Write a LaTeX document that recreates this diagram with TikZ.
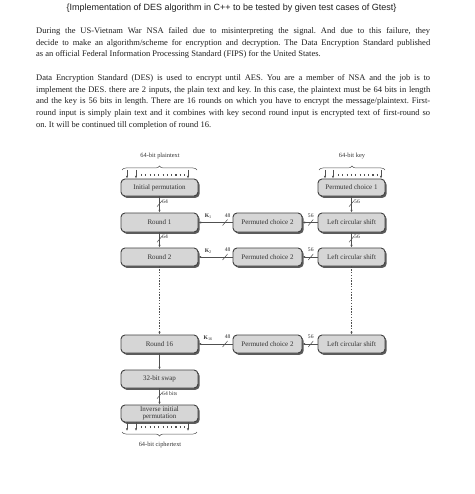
\documentclass[tikz,border=0pt]{standalone}
\usepackage{fontspec}
\setmainfont{Liberation Serif}
\newfontfamily\titlefont{Liberation Sans}
\usetikzlibrary{shadows,decorations.pathreplacing,arrows.meta,calc}
\definecolor{boxfill}{HTML}{D6D6D6}
\definecolor{boxline}{HTML}{404040}
\definecolor{shadowc}{HTML}{5C5C5C}
\definecolor{dtext}{HTML}{333333}
\definecolor{conn}{HTML}{505050}
\definecolor{ptext}{HTML}{1E1E1E}
\begin{document}
\frenchspacing
\begin{tikzpicture}[x=1pt,y=-1pt,
  box/.style={draw=boxline, line width=0.9pt, fill=boxfill, rounded corners=4pt,
    minimum width=77pt, minimum height=18pt, inner sep=0pt, text=dtext, align=center,
    font=\fontsize{7}{6.8}\selectfont,
    drop shadow={shadow xshift=1.6pt, shadow yshift=-1.8pt, fill=shadowc, opacity=1}},
  midbox/.style={box, minimum width=69pt},
  rbox/.style={box, minimum width=67pt},
  conn/.style={draw=conn, line width=0.6pt, -{Latex[length=2.6pt,width=2.2pt]}},
  dashconn/.style={conn, dash pattern=on 1.4pt off 1.4pt},
  dotrow/.style={draw=conn, line width=1.1pt, dash pattern=on 1.1pt off 3.2pt},
  slashmark/.style={draw=conn, line width=0.5pt},
  small/.style={text=dtext, font=\fontsize{5.6}{6}\selectfont, inner sep=0pt},
  lab/.style={text=dtext, font=\fontsize{6.4}{7}\selectfont, inner sep=0pt},
  bracestyle/.style={draw=conn, line width=0.5pt, decorate, decoration={brace, amplitude=4pt}},
  para/.style={text=ptext, font=\fontsize{8.5}{11.6}\selectfont, text width=394pt, align=justify, inner sep=0pt, anchor=north west}
]
\useasboundingbox (0,0) rectangle (474,494);
\fill[white] (0,0) rectangle (474,494);

% title and paragraphs
\node[anchor=base, inner sep=0pt, text=ptext, font=\titlefont\fontsize{9}{10}\selectfont] (title) at (231.5,10.5)
  {\{Implementation of DES algorithm in C++ to be tested by given test cases of Gtest\}};
\node[para] (p1) at (36,27.5) {During the US-Vietnam War NSA failed due to misinterpreting the signal. And due to this failure, they\linebreak
decide to make an algorithm/scheme for encryption and decryption. The Data Encryption Standard published\linebreak
as an official Federal Information Processing Standard (FIPS) for the United States.};
\node[para] (p2) at (36,74.5) {Data Encryption Standard (DES) is used to encrypt until AES. You are a member of NSA and the job is to\linebreak
implement the DES. there are 2 inputs, the plain text and key. In this case, the plaintext must be 64 bits in length\linebreak
and the key is 56 bits in length. There are 16 rounds on which you have to encrypt the message/plaintext. First-\linebreak
round input is simply plain text and it combines with key second round input is encrypted text of first-round so\linebreak
on. It will be continued till completion of round 16.};

% boxes
\node[box, minimum height=17pt] (ip) at (159.5,187.5) {Initial permutation};
\node[box, minimum height=19pt] (r1) at (159.5,222.5) {Round 1};
\node[box] (r2) at (159.5,257) {Round 2};
\node[box] (r16) at (159.5,344) {Round 16};
\node[box] (swap) at (159.5,379) {32-bit swap};
\node[box, minimum height=17pt] (iip) at (159.5,413.5) {Inverse initial\\permutation};

\node[midbox, minimum height=19pt] (pa) at (267.5,222.5) {Permuted choice 2};
\node[midbox] (pb) at (267.5,257) {Permuted choice 2};
\node[midbox] (pc) at (267.5,344) {Permuted choice 2};

\node[rbox, minimum height=17pt] (pc1) at (351.5,187.5) {Permuted choice 1};
\node[rbox, minimum height=19pt] (l1) at (351.5,222.5) {Left circular shift};
\node[rbox] (l2) at (351.5,257) {Left circular shift};
\node[rbox] (l16) at (351.5,344) {Left circular shift};

% top inputs: plaintext
\node[lab] (ptl) at (160,156) {64-bit plaintext};
\coordinate (pbl) at (122,170);
\coordinate (pbr) at (197,170);
\draw[bracestyle] (pbl) -- (pbr);
\coordinate (pa1) at (127,170); \coordinate (pa2) at (136,170); \coordinate (pa3) at (188,170);
\draw[conn] (pa1) -- (pa1 |- ip.north);
\draw[conn] (pa2) -- (pa2 |- ip.north);
\draw[conn] (pa3) -- (pa3 |- ip.north);
\coordinate (pd1) at (141,175); \coordinate (pd2) at (185,175);
\draw[dotrow] (pd1) -- (pd2);

% top inputs: key
\node[lab] (kl) at (352,156) {64-bit key};
\coordinate (kbl) at (319,170);
\coordinate (kbr) at (385,170);
\draw[bracestyle] (kbl) -- (kbr);
\coordinate (ka1) at (325,170); \coordinate (ka2) at (333,170); \coordinate (ka3) at (381,170);
\draw[conn] (ka1) -- (ka1 |- pc1.north);
\draw[conn] (ka2) -- (ka2 |- pc1.north);
\draw[conn] (ka3) -- (ka3 |- pc1.north);
\coordinate (kd1) at (338,175); \coordinate (kd2) at (378,175);
\draw[dotrow] (kd1) -- (kd2);

% left column connectors
\draw[conn] (ip) -- coordinate[pos=0.45] (s1) (r1);
\draw[slashmark] ($(s1)+(-2.5,3)$) -- ($(s1)+(2.5,-3)$);
\node[small, anchor=west] at ($(s1)+(2.5,-2.5)$) {64};
\draw[conn] (r1) -- coordinate[pos=0.45] (s2) (r2);
\draw[slashmark] ($(s2)+(-2.5,3)$) -- ($(s2)+(2.5,-3)$);
\node[small, anchor=west] at ($(s2)+(2.5,-2.5)$) {64};
\draw[dashconn] (r2) -- (r16);
\draw[conn] (r16) -- (swap);
\draw[conn] (swap) -- coordinate[pos=0.45] (s3) (iip);
\draw[slashmark] ($(s3)+(-2.5,3)$) -- ($(s3)+(2.5,-3)$);
\node[small, anchor=west] at ($(s3)+(2.5,-2.5)$) {64 bits};

% right column connectors
\draw[conn] (pc1) -- coordinate[pos=0.45] (t1) (l1);
\draw[slashmark] ($(t1)+(-2.5,3)$) -- ($(t1)+(2.5,-3)$);
\node[small, anchor=west] at ($(t1)+(2.5,-2.5)$) {56};
\draw[conn] (l1) -- coordinate[pos=0.45] (t2) (l2);
\draw[slashmark] ($(t2)+(-2.5,3)$) -- ($(t2)+(2.5,-3)$);
\node[small, anchor=west] at ($(t2)+(2.5,-2.5)$) {56};
\draw[dashconn] (l2) -- (l16);

% horizontal connectors
\foreach \l/\p/\r/\k in {l1/pa/r1/1, l2/pb/r2/2, l16/pc/r16/16} {
  \draw[conn] (\l) -- coordinate[pos=0.45] (h\k) (\p);
  \draw[slashmark] ($(h\k)+(-2.5,3)$) -- ($(h\k)+(2.5,-3)$);
  \node[small] at ($(h\k)+(0,-7)$) {56};
  \draw[conn] (\p) -- coordinate[pos=0.22] (g\k) coordinate[pos=0.72] (kk\k) (\r);
  \draw[slashmark] ($(g\k)+(-2.5,3)$) -- ($(g\k)+(2.5,-3)$);
  \node[small] at ($(g\k)+(2.5,-7)$) {48};
  \node[small] at ($(kk\k)+(0,-6)$) {\textbf{K}\raisebox{-1pt}{\fontsize{4.2}{4.5}\selectfont\k}};
}

% bottom outputs
\coordinate (ob1) at (127,431); \coordinate (ob2) at (136,431); \coordinate (ob3) at (188,431);
\draw[conn] (ob1 |- iip.south) -- (ob1);
\draw[conn] (ob2 |- iip.south) -- (ob2);
\draw[conn] (ob3 |- iip.south) -- (ob3);
\coordinate (od1) at (141,427); \coordinate (od2) at (185,427);
\draw[dotrow] (od1) -- (od2);
\coordinate (obl) at (122,432);
\coordinate (obr) at (197,432);
\draw[bracestyle] (obr) -- (obl);
\node[lab] (ctl) at (160,445) {64-bit ciphertext};
\end{tikzpicture}
\end{document}
